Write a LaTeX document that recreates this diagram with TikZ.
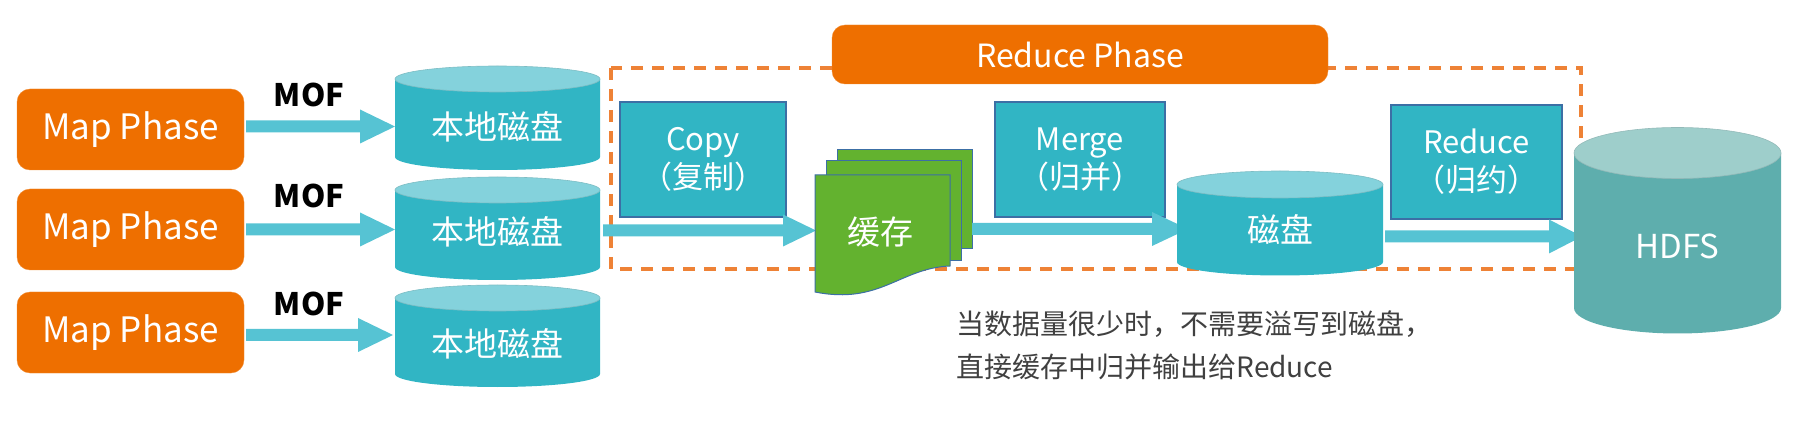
\documentclass[tikz,border=0pt]{standalone}
\usepackage{fontspec}
\setmainfont{Noto Sans CJK SC}
\begin{document}
\begin{tikzpicture}[x=1pt,y=-1pt,
  mapbox/.style={fill=mporange,draw=mporange!80!white,rounded corners=13pt,text=white,font=\fontsize{35}{38}\selectfont},
  stepbox/.style={fill=boxteal,draw=boxedge,line width=1.2pt,text=white,align=center,font=\fontsize{31}{38}\selectfont},
  arr/.style={fill=arrcol},
  lbl/.style={font=\fontsize{31}{34}\selectfont\bfseries,text=black},
  disktext/.style={text=white,font=\fontsize{33}{36}\selectfont}]
\definecolor{mporange}{HTML}{EE6F00}
\definecolor{boxteal}{HTML}{31B5C4}
\definecolor{boxedge}{HTML}{3C6FA5}
\definecolor{arrcol}{HTML}{56C3D3}
\definecolor{disktop}{HTML}{84D2DC}
\definecolor{hdfs}{HTML}{5EAEAD}
\definecolor{hdfstop}{HTML}{9ECECB}
\definecolor{docgreen}{HTML}{63B22F}
\definecolor{dashor}{HTML}{EE8236}
\useasboundingbox (0,0) rectangle (1797,430);
\newcommand\mycyl[7]{%
  \fill[#6] (#1,#3) -- (#1,#4) arc[start angle=180,end angle=0,x radius={(#2-#1)/2},y radius=#5] -- (#2,#3) -- cycle;
  \fill[#7] ({(#1+#2)/2},#3) ellipse[x radius={(#2-#1)/2},y radius=#5];
  \draw[#6!80!black!60,line width=0.6pt] ({(#1+#2)/2},#3) ellipse[x radius={(#2-#1)/2},y radius=#5];}
\newcommand\blk[6]{\fill[arrcol] (#1,#4-#5) -- (#2,#4-#5) -- (#2,#4-#6) -- (#3,#4) -- (#2,#4+#6) -- (#2,#4+#5) -- (#1,#4+#5) -- cycle;}
\draw[dashor,dashed,dash pattern=on 12pt off 9pt,line width=3.5pt] (611,68) rectangle (1581,269);
\node[mapbox,minimum width=496pt,minimum height=59pt,font=\fontsize{32}{35}\selectfont] (rp) at (1080,54.5) {Reduce Phase};
\foreach \i/\y in {1/129.5,2/229.5,3/332.5}{
  \node[mapbox,minimum width=227pt,minimum height=81pt] (map\i) at (130.5,\y) {Map Phase};
}
\node[lbl] (mof1) at (309,95) {MOF};
\node[lbl] (mof2) at (309,196) {MOF};
\node[lbl] (mof3) at (309,304) {MOF};
\blk{246}{360}{395}{126.5}{6}{17}
\blk{246}{360}{395}{229.5}{6}{17}
\blk{246}{358}{393}{335}{6}{17}
\mycyl{395}{600}{79}{157}{13}{boxteal}{disktop}
\mycyl{395}{600}{190}{267}{13}{boxteal}{disktop}
\mycyl{395}{600}{298}{374}{13}{boxteal}{disktop}
\node[disktext] (d1) at (497,127) {本地磁盘};
\node[disktext] (d2) at (497,232) {本地磁盘};
\node[disktext] (d3) at (497,344) {本地磁盘};
\node[stepbox,minimum width=166pt,minimum height=115pt] (copy) at (703,159.5) {Copy\\（复制）};
\blk{603}{783}{816}{230.5}{6}{16}
\foreach \dx/\dy/\by in {22/-25/249,11/-14/261}{
  \filldraw[fill=docgreen,draw=boxedge,line width=1pt] (815+\dx,175+\dy) rectangle (950+\dx,\by);
}
\filldraw[fill=docgreen,draw=boxedge,line width=1pt] (815,175) -- (950,175) -- (950,266) .. controls (900,268) and (880,305) .. (815,292) -- cycle;
\node[disktext] (cache) at (880,232) {缓存};
\node[stepbox,minimum width=170pt,minimum height=115pt] (merge) at (1080,159.5) {Merge\\（归并）};
\blk{972}{1152}{1188}{229}{6}{17}
\mycyl{1177}{1383}{184.5}{262}{13.5}{boxteal}{disktop}
\node[disktext] (disk) at (1280,230) {磁盘};
\node[stepbox,minimum width=171pt,minimum height=114pt] (reduce) at (1476.5,162) {Reduce\\（归约）};
\blk{1385}{1549}{1582}{236.5}{6}{17}
\mycyl{1574}{1781}{153}{308}{25.5}{hdfs}{hdfstop}
\node[disktext] (hdfsn) at (1677.5,246) {HDFS};
\node[anchor=west,align=left,text=black!75,font=\fontsize{28}{43}\selectfont] (note) at (953,345) {当数据量很少时，不需要溢写到磁盘，\\直接缓存中归并输出给Reduce};
\end{tikzpicture}
\end{document}
